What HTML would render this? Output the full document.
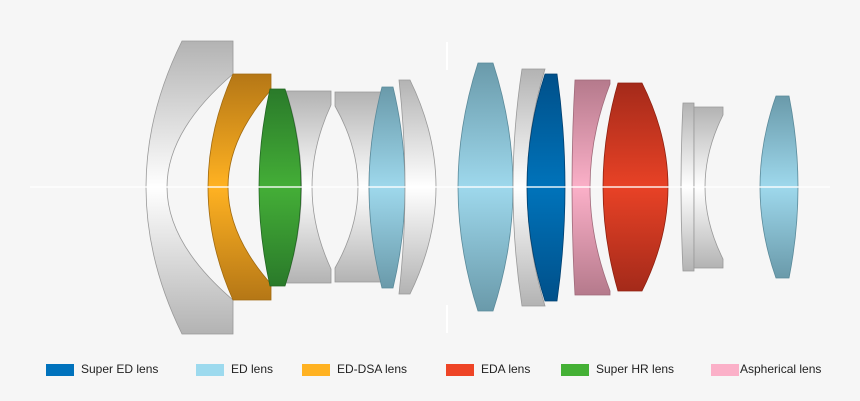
<!DOCTYPE html>
<html><head><meta charset="utf-8"><style>
html,body{margin:0;padding:0;background:#f6f6f6;}
body{width:860px;height:401px;overflow:hidden;position:relative;font-family:"Liberation Sans",sans-serif;}
.lg{position:absolute;top:363px;font-size:12px;color:#222;line-height:13px;}
.sw{position:absolute;top:364px;width:28px;height:12px;}
</style></head><body>
<svg width="860" height="401" style="position:absolute;left:0;top:0">
<defs>
<linearGradient id="gy" x1="0" y1="0" x2="0" y2="1"><stop offset="0" stop-color="#b3b3b3"/><stop offset="0.5" stop-color="#ffffff"/><stop offset="1" stop-color="#b3b3b3"/></linearGradient>
<linearGradient id="or" x1="0" y1="0" x2="0" y2="1"><stop offset="0" stop-color="#b57716"/><stop offset="0.5" stop-color="#ffb222"/><stop offset="1" stop-color="#b57716"/></linearGradient>
<linearGradient id="gr" x1="0" y1="0" x2="0" y2="1"><stop offset="0" stop-color="#2a7a2a"/><stop offset="0.5" stop-color="#44ae37"/><stop offset="1" stop-color="#2a7a2a"/></linearGradient>
<linearGradient id="lb" x1="0" y1="0" x2="0" y2="1"><stop offset="0" stop-color="#6a9aaa"/><stop offset="0.5" stop-color="#9ed8ec"/><stop offset="1" stop-color="#6a9aaa"/></linearGradient>
<linearGradient id="db" x1="0" y1="0" x2="0" y2="1"><stop offset="0" stop-color="#00508a"/><stop offset="0.5" stop-color="#0073ba"/><stop offset="1" stop-color="#00508a"/></linearGradient>
<linearGradient id="pk" x1="0" y1="0" x2="0" y2="1"><stop offset="0" stop-color="#b57a8c"/><stop offset="0.5" stop-color="#fbb0c8"/><stop offset="1" stop-color="#b57a8c"/></linearGradient>
<linearGradient id="rd" x1="0" y1="0" x2="0" y2="1"><stop offset="0" stop-color="#a42a1a"/><stop offset="0.5" stop-color="#e84226"/><stop offset="1" stop-color="#a42a1a"/></linearGradient>
</defs>
<g stroke="#999" stroke-width="0.8">
<path d="M182,41 L233,41 L233,74 Q101,187 233,300 L233,334 L182,334 Q110,187 182,41 Z" fill="url(#gy)"/>
<path d="M233,74 L271,74 L271,90 Q185,187 271,284 L271,300 L233,300 Q183,187 233,74 Z" fill="url(#or)" stroke="#a06a10"/>
<path d="M286,91 L331,91 L331,105 Q293,187 331,269 L331,283 L286,283 Q317,187 286,91 Z" fill="url(#gy)"/>
<path d="M270,89 L285,89 Q317,187 285,286 L270,286 Q248,187 270,89 Z" fill="url(#gr)" stroke="#226622"/>
<path d="M335,92 L382,92 Q356,187 382,282 L335,282 L335,268 Q381,187 335,106 Z" fill="url(#gy)"/>
<path d="M382,87 L393,87 Q417,187 393,288 L382,288 Q356,187 382,87 Z" fill="url(#lb)" stroke="#5a8a9a"/>
<path d="M399,80 L410,80 Q462,187 410,294 L399,294 Q411,187 399,80 Z" fill="url(#gy)"/>
<path d="M478,63 L493,63 Q533,187 493,311 L478,311 Q438,187 478,63 Z" fill="url(#lb)" stroke="#5a8a9a"/>
<path d="M522,69 L545,69 Q509,187 545,306 L522,306 Q504,187 522,69 Z" fill="url(#gy)"/>
<path d="M545,74 L557,74 Q573,187 557,301 L545,301 Q509,187 545,74 Z" fill="url(#db)" stroke="#004070"/>
<path d="M575,80 L610,80 L610,84 Q570,187 610,291 L610,295 L575,295 Q569,187 575,80 Z" fill="url(#pk)" stroke="#a06a7a"/>
<path d="M618,83 L642,83 Q694,187 642,291 L618,291 Q588,187 618,83 Z" fill="url(#rd)" stroke="#902010"/>
<path d="M683,103 L694,103 L694,271 L683,271 Q679,187 683,103 Z" fill="url(#gy)"/>
<path d="M694,107 L723,107 L723,115 Q687,187 723,259 L723,268 L694,268 Z" fill="url(#gy)"/>
<path d="M776,96 L789,96 Q807,187 789,278 L776,278 Q744,187 776,96 Z" fill="url(#lb)" stroke="#5a8a9a"/>
</g>
<line x1="30" y1="187" x2="830" y2="187" stroke="#ffffff" stroke-width="1.6" opacity="0.9"/>
<line x1="447" y1="42" x2="447" y2="70" stroke="#fff" stroke-width="2"/>
<line x1="447" y1="305" x2="447" y2="333" stroke="#fff" stroke-width="2"/>
</svg>
<div class="sw" style="left:46px;background:#0072bc"></div><div class="lg" style="left:81px">Super ED lens</div>
<div class="sw" style="left:196px;background:#9ddaee"></div><div class="lg" style="left:231px">ED lens</div>
<div class="sw" style="left:302px;background:#ffb222"></div><div class="lg" style="left:337px">ED-DSA lens</div>
<div class="sw" style="left:446px;background:#ee4426"></div><div class="lg" style="left:481px">EDA lens</div>
<div class="sw" style="left:561px;background:#44b035"></div><div class="lg" style="left:596px">Super HR lens</div>
<div class="sw" style="left:711px;background:#fbb0c8"></div><div class="lg" style="left:740px">Aspherical lens</div>
</body></html>
